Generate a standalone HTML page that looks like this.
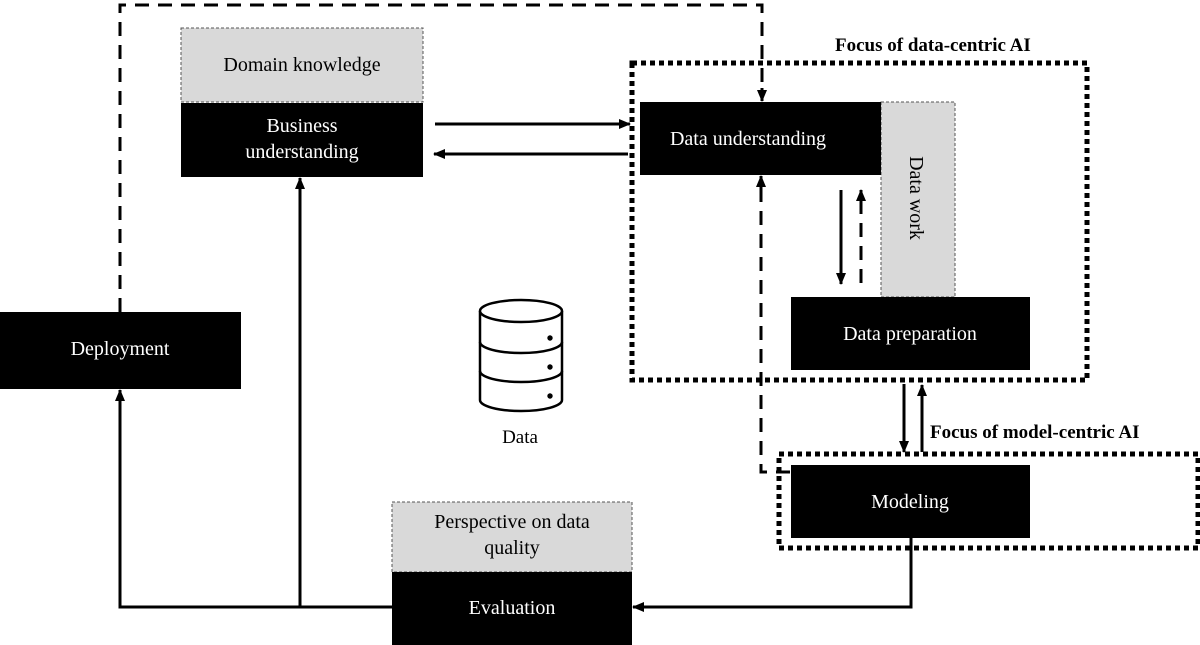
<!DOCTYPE html>
<html><head><meta charset="utf-8"><style>
html,body{margin:0;padding:0;background:#fff;width:1200px;height:645px;overflow:hidden}
svg text{font-family:"Liberation Serif",serif}
</style></head><body>
<svg width="1200" height="645" viewBox="0 0 1200 645" xmlns="http://www.w3.org/2000/svg">
<defs>
<marker id="a" markerWidth="12" markerHeight="12" refX="11" refY="6" orient="auto" markerUnits="userSpaceOnUse">
<path d="M0,1 L12,6 L0,11 z" fill="#000"/></marker>
</defs>
<rect x="181" y="28" width="242" height="74" fill="#d9d9d9" stroke="#555" stroke-dasharray="3,2"/>
<rect x="392" y="502" width="240" height="70" fill="#d9d9d9" stroke="#555" stroke-dasharray="3,2"/>
<rect x="881" y="102" width="74" height="195" fill="#d9d9d9" stroke="#555" stroke-dasharray="3,2"/>
<rect x="181" y="103" width="242" height="74" fill="#000"/>
<rect x="0" y="312" width="241" height="77" fill="#000"/>
<rect x="392" y="572" width="240" height="73" fill="#000"/>
<rect x="640" y="102" width="241" height="73" fill="#000"/>
<rect x="791" y="297" width="239" height="73" fill="#000"/>
<rect x="791" y="465" width="239" height="73" fill="#000"/>
<rect x="632" y="63" width="455" height="317" fill="none" stroke="#000" stroke-width="5" stroke-dasharray="5,4"/>
<rect x="779" y="454" width="419" height="94" fill="none" stroke="#000" stroke-width="5" stroke-dasharray="5,4"/>
<path d="M120,312 V5 H762 V90" fill="none" stroke="#000" stroke-width="3" stroke-dasharray="14,9"/>
<path d="M762,88 V101" stroke="#000" stroke-width="3" marker-end="url(#a)"/>
<path d="M790,472 H761 V188" fill="none" stroke="#000" stroke-width="3" stroke-dasharray="14,9"/>
<path d="M761,190 V176" stroke="#000" stroke-width="3" marker-end="url(#a)"/>
<path d="M435,124 H630" stroke="#000" stroke-width="3" marker-end="url(#a)"/>
<path d="M628,154 H434" stroke="#000" stroke-width="3" marker-end="url(#a)"/>
<path d="M841,190 V284" stroke="#000" stroke-width="3" marker-end="url(#a)"/>
<path d="M861,283 V203" stroke="#000" stroke-width="3" stroke-dasharray="14,9"/>
<path d="M861,204 V190" stroke="#000" stroke-width="3" marker-end="url(#a)"/>
<path d="M904,384 V452" stroke="#000" stroke-width="3" marker-end="url(#a)"/>
<path d="M922,452 V385" stroke="#000" stroke-width="3" marker-end="url(#a)"/>
<path d="M911,538 V607 H633" fill="none" stroke="#000" stroke-width="3" marker-end="url(#a)"/>
<path d="M392,607 H120 V390" fill="none" stroke="#000" stroke-width="3" marker-end="url(#a)"/>
<path d="M300,607 V178" fill="none" stroke="#000" stroke-width="3" marker-end="url(#a)"/>
<path d="M480,311 V400 A41,11 0 0 0 562,400 V311" fill="#fff" stroke="#000" stroke-width="2.5"/>
<ellipse cx="521" cy="311" rx="41" ry="11" fill="#fff" stroke="#000" stroke-width="2.5"/>
<path d="M480,342 A41,11 0 0 0 562,342 M480,371 A41,11 0 0 0 562,371" fill="none" stroke="#000" stroke-width="2.5"/>
<circle cx="550" cy="338" r="2.7"/><circle cx="550" cy="367" r="2.7"/><circle cx="550" cy="396" r="2.7"/>
<g font-size="20" text-anchor="middle">
<text x="302" y="71" fill="#000">Domain knowledge</text>
<text x="302" y="132" fill="#fff">Business</text>
<text x="302" y="158" fill="#fff">understanding</text>
<text x="120" y="355" fill="#fff">Deployment</text>
<text x="512" y="528" fill="#000">Perspective on data</text>
<text x="512" y="554" fill="#000">quality</text>
<text x="512" y="614" fill="#fff">Evaluation</text>
<text x="748" y="145" fill="#fff">Data understanding</text>
<text x="910" y="340" fill="#fff">Data preparation</text>
<text x="910" y="508" fill="#fff">Modeling</text>
<text x="520" y="443" fill="#000" font-size="19">Data</text>
<text transform="translate(910,198) rotate(90)" fill="#000">Data work</text>
</g>
<g font-size="19" font-weight="bold">
<text x="835" y="51">Focus of data-centric AI</text>
<text x="930" y="438">Focus of model-centric AI</text>
</g>
</svg>
</body></html>
